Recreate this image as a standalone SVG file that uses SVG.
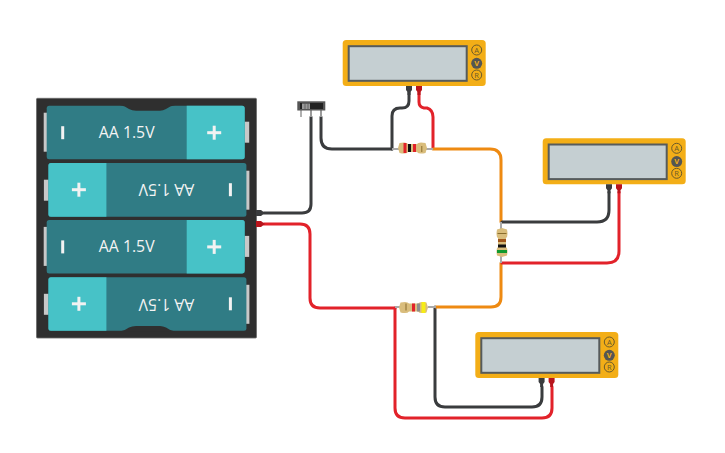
<svg xmlns="http://www.w3.org/2000/svg" width="725" height="453" viewBox="0 0 725 453">
<style>
text{font-family:"Open Sans","Noto Sans","Liberation Sans",sans-serif}
.w{fill:none;stroke-width:3;stroke-linecap:round}
.k{stroke:#3a3c3e}.r{stroke:#e2222a}.o{stroke:#ee8a12}
.lead{stroke:#a9a9a9;stroke-width:2;fill:none}
.dk{fill:#307c85}.lt{fill:#47c2c7}.tab{fill:#c8c8c8}
.bt{fill:#f4f4f4;font-size:15.8px;text-anchor:middle}
.sym{fill:#f2f2f2}
.case{fill:#f3ae17}.scr{fill:#c5cfd2;stroke:#565b5c;stroke-width:2}
.o1{fill:none;stroke:#6b5a2b;stroke-width:1}
.ol{font-size:7.500px;fill:#6b5a2b;text-anchor:middle}
.on{fill:#555653}.onl{font-size:7.500px;fill:#f3ae17;text-anchor:middle;font-weight:700}
.pb{fill:#3a3c3e}.pr{fill:#b8151c}
.body{fill:#d9bd7c}
</style>
<defs>
<g id="cell">
<rect class="tab" x="-3" y="7" width="5" height="39"/>
<rect class="tab" x="196" y="16" width="6.500" height="21"/>
<rect class="dk" x="0" y="0" width="198" height="53.600" rx="2.500"/>
<path class="lt" d="M140 0H195.500A2.500 2.500 0 0 1 198 2.500V51.100A2.500 2.500 0 0 1 195.500 53.600H140Z"/>
<rect class="sym" x="14.500" y="20.500" width="3" height="13"/>
<rect class="sym" x="160.500" y="25.500" width="14" height="3"/>
<rect class="sym" x="166" y="20" width="3" height="14"/>
<text class="bt" x="80" y="32.300">AA 1.5V</text>
</g>
<g id="meter">
<rect class="case" x="0" y="0" width="143" height="46" rx="3.500"/>
<rect class="scr" x="6" y="6.200" width="118" height="34.600"/>
<circle class="o1" cx="134" cy="10" r="5"/><text class="ol" x="134" y="12.700">A</text>
<circle class="on" cx="134" cy="23.300" r="5.500"/><text class="onl" x="134" y="26">V</text>
<circle class="o1" cx="134" cy="35" r="5"/><text class="ol" x="134" y="37.700">R</text>
<path class="pb" d="M63.300 46H69.300V50L67.800 52V55H64.800V52L63.300 50Z"/>
<path class="pr" d="M73.300 46H79.300V50L77.800 52V55H74.800V52L73.300 50Z"/>
</g>
<g id="resbody">
<path class="body" d="M0.500 -5Q3 -5.500 5 -5.500Q8 -5.500 9 -4H18Q19 -5.500 22 -5.500Q24 -5.500 26.500 -5L28 0L26.500 5Q24 5.500 22 5.500Q19 5.500 18 4H9Q8 5.500 5 5.500Q3 5.500 0.500 5L-1 0Z"/>
</g>
</defs>

<g id="connectors">
<path class="w k" d="M409 92V101Q409 108 402 108H400Q392 108 392 116V149"/>
<path class="w r" d="M419 92V102Q419 107 424 108H427Q433 110 433 117V148"/>
<path class="w k" d="M321 117V138Q321 149 332 149H392"/>
<path class="w k" d="M311 117V204Q311 213 302 213H264"/>
<path class="w r" d="M264 224H300Q310 224 310 234V298Q310 308 320 308H395"/>
<path class="w r" d="M395 308V408Q395 418 405 418H542Q552 418 552 408V387"/>
<path class="w k" d="M435 307V397Q435 407 445 407H532Q542 407 542 397V387"/>
<path class="w o" d="M433 149H490Q501 149 501 160V222"/>
<path class="w o" d="M501 263V297Q501 307 491 307H436"/>
<path class="w k" d="M502 222H597Q609 222 609 210V192"/>
<path class="w r" d="M502 263H607Q619 263 619 251V192"/>
</g>

<g id="battery">
<rect x="36.500" y="98.300" width="220" height="239.700" rx="1" fill="#2f2f2f" stroke="#6b6b6b" stroke-width="0.800"/>
<use href="#cell" x="46.700" y="105.700"/>
<use href="#cell" transform="translate(246.400 216.700) rotate(180)"/>
<use href="#cell" x="46.700" y="219.900"/>
<use href="#cell" transform="translate(246.400 330.800) rotate(180)"/>
<path d="M120 105H175Q170 106 166 109Q163 110.800 160 110.800H136Q132 110.800 129 109Q125 106 120 105Z" fill="#2f2f2f"/>
<path d="M120 331.500H175Q170 330.500 166 327.500Q163 326 160 326H136Q132 326 129 327.500Q125 330.500 120 331.500Z" fill="#2f2f2f"/>
<path d="M256 210H261L265 213L261 216H256Z" fill="#3a3c3e"/>
<path d="M256 221H261L265 224L261 227H256Z" fill="#b8151c"/>
</g>

<g id="switch">
<rect x="300" y="110" width="2" height="7" fill="#b0b0b0"/>
<rect x="310" y="110" width="2" height="7" fill="#9a9a9a"/>
<rect x="320" y="110" width="2" height="7" fill="#9a9a9a"/>
<rect x="297.300" y="101.300" width="28" height="9.200" fill="#555"/>
<rect x="300" y="103" width="23" height="6" fill="#222"/>
<rect x="302" y="103.500" width="8" height="5.500" fill="#999"/>
<path d="M305 103.500V109M308 103.500V109" stroke="#555" stroke-width="0.800"/>
</g>

<g id="resistor-top">
<path class="lead" d="M392 149H400M425 149H433"/>
<use href="#resbody" transform="translate(399 148)"/>
<rect x="403.500" y="143" width="3" height="10" fill="#e2222a"/>
<rect x="408" y="144" width="3" height="8" fill="#111"/>
<rect x="413" y="144" width="3" height="8" fill="#e2222a"/>
<rect x="421.300" y="146" width="1" height="6" fill="#8a6d2d"/>
</g>

<g id="resistor-right">
<path class="lead" d="M501 222V230M501 255V263"/>
<use href="#resbody" transform="translate(502 229) rotate(90)"/>
<rect x="497.500" y="233" width="9" height="1" fill="#8a6d2d"/>
<rect x="498" y="239" width="8" height="3" fill="#a0551a"/>
<rect x="498" y="244.500" width="8" height="3" fill="#111"/>
<rect x="497" y="250" width="10" height="3" fill="#119a2e"/>
</g>

<g id="resistor-bottom">
<path class="lead" d="M395 307H402M428 307H436"/>
<use href="#resbody" transform="translate(400 307.500)"/>
<rect x="405.500" y="303.500" width="1" height="7" fill="#8a6d2d"/>
<rect x="412" y="303.500" width="3" height="8" fill="#e2222a"/>
<rect x="417" y="303.500" width="3" height="8" fill="#8e8e8e"/>
<rect x="421.500" y="302" width="4" height="11" fill="#f6ec16"/>
</g>

<g id="meter-top"><use href="#meter" x="342.700" y="40"/></g>
<g id="meter-right"><use href="#meter" x="542.700" y="138.300"/></g>
<g id="meter-bottom"><use href="#meter" x="475.300" y="332"/></g>
</svg>
